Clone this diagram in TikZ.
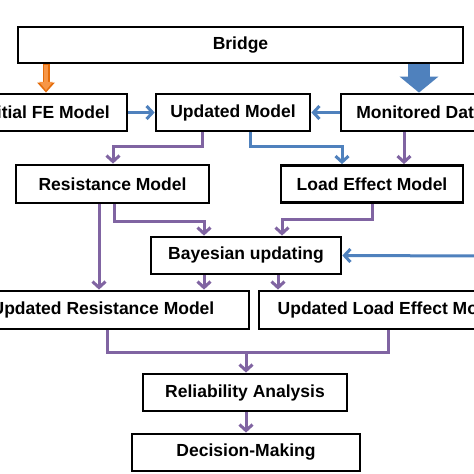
\documentclass[tikz,border=0pt]{standalone}
\usepackage{fontspec}
\setmainfont{Liberation Sans}
\usetikzlibrary{arrows.meta}
\definecolor{pur}{HTML}{8064A2}
\definecolor{blu}{HTML}{4F81BD}
\definecolor{org}{HTML}{F79646}
\definecolor{orgd}{HTML}{E46C0A}
\begin{document}
\begin{tikzpicture}[x=1pt,y=-1pt,
  box/.style={draw=black,line width=2.8pt,fill=white,inner sep=0pt,minimum height=37pt,
    font=\fontsize{17.5}{18}\selectfont\bfseries,text=black},
  parrow/.style={draw=pur,line width=3pt,-{Straight Barb[length=6pt,width=13pt]}},
  barrow/.style={draw=blu,line width=3pt,-{Straight Barb[length=6pt,width=13pt]}},
  ]
\useasboundingbox (0,0) rectangle (474,474);
\clip (0,0) rectangle (474,474);
\fill[white] (0,0) rectangle (474,474);
% nodes
\node[box,minimum width=445pt,minimum height=36pt] (bridge) at (240.5,45) {Bridge};
\node[box,minimum width=163pt] (fe) at (45.5,112.5) {Initial FE Model};
\node[box,minimum width=154pt] (upd) at (233,112.5) {Updated Model};
\node[box,minimum width=158pt] (mon) at (420,112.5) {Monitored Data};
\node[box,minimum width=193pt,minimum height=38pt] (res) at (112.5,184) {Resistance Model};
\node[box,minimum width=182pt] (load) at (372,184) {Load Effect Model};
\node[box,minimum width=190pt] (bay) at (246,255.5) {Bayesian updating};
\node[box,minimum width=292pt,minimum height=38pt] (ures) at (103,310) {Updated Resistance Model};
\node[box,minimum width=263pt,minimum height=38pt] (uload) at (390.5,310) {Updated Load Effect Model};
\node[box,minimum width=204pt] (rel) at (245,392.5) {Reliability Analysis};
\node[box,minimum width=228pt] (dec) at (246,452.5) {Decision-Making};
\coordinate (offr) at (480,256);
% big arrows
\draw[draw=orgd,line width=7pt,-{Triangle[length=10pt,width=17pt]}] ([xshift=-194.5pt]bridge.south) -- (fe.north -| {(46,0)});
\draw[draw=org,line width=4.5pt,-{Triangle[length=8.5pt,width=13pt]}] ([xshift=-194.5pt,yshift=-1pt]bridge.south) -- ([yshift=2.2pt]fe.north -| {(46,0)});
\draw[draw=blu,line width=22pt,-{Triangle[length=16pt,width=38pt]}] ([xshift=178.5pt]bridge.south) -- (mon.north -| {(419,0)});
% blue arrows row 2
\draw[barrow] (fe.east) -- (upd.west);
\draw[barrow] (mon.west) -- (upd.west -| upd.east);
% from updated model
\draw[parrow] ([xshift=-31pt]upd.south) |- ++(0,14) -| ([xshift=0.5pt]res.north);
\draw[barrow] ([xshift=17pt]upd.south) |- ++(0,14) -| ([xshift=-30pt]load.north);
\draw[parrow] ([xshift=-16pt]mon.south) -- ([xshift=-16pt]mon.south |- load.north);
% from resistance / load to bayes
\draw[parrow] ([xshift=-13.5pt]res.south) -- ([xshift=-13.5pt]res.south |- ures.north);
\draw[parrow] ([xshift=1.5pt]res.south) |- ++(0,17) -| ([xshift=-42pt]bay.north);
\draw[parrow] ([xshift=0pt]load.south) |- ++(0,16) -| ([xshift=36pt]bay.north);
\draw[barrow] (offr) -- (bay.east);
% from bayes
\draw[parrow] ([xshift=-42pt]bay.south) -- ([xshift=-42pt]bay.south |- ures.north);
\draw[parrow] ([xshift=32pt]bay.south) -- ([xshift=32pt]bay.south |- uload.north);
% merge to reliability
\draw[draw=pur,line width=3pt] ([xshift=4pt]ures.south) |- ++(0,22) coordinate (mj) -| ([xshift=-2.5pt]uload.south);
\coordinate (mid) at (rel.north |- mj);
\draw[parrow] ([xshift=1pt]mid) -- ([xshift=1pt]rel.north);
\draw[parrow] ([xshift=1pt]rel.south) -- ([xshift=1pt]rel.south |- dec.north);
\end{tikzpicture}
\end{document}
